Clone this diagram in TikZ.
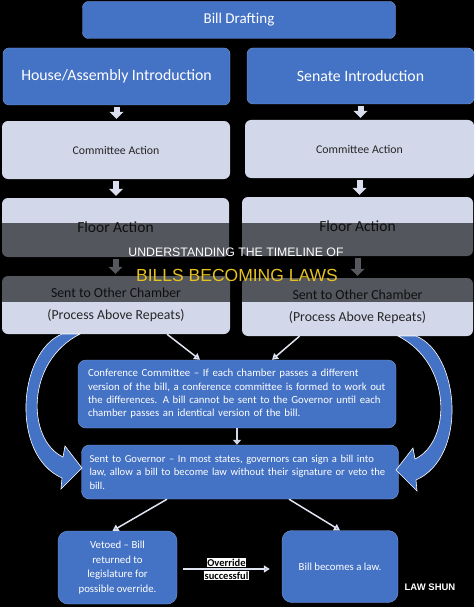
\documentclass[tikz,border=0pt]{standalone}
\usepackage{fontspec}
\setmainfont{Carlito}
\newfontfamily\headfont{Liberation Sans}
\usetikzlibrary{arrows.meta}
\definecolor{boxblue}{HTML}{4472C4}
\definecolor{boxlav}{HTML}{D3D7EA}
\definecolor{titlegold}{HTML}{E6C21E}

\begin{document}
\begin{tikzpicture}[x=1pt,y=-1pt,
  bluebox/.style={fill=boxblue, draw=boxblue!70!white, rounded corners=6pt, text=white, inner sep=0pt},
  lavbox/.style={fill=boxlav, rounded corners=6pt, text=black!85, inner sep=0pt},
  blk/.style={boxlav!85!white, line width=6pt, shorten <=2pt, shorten >=2pt, -{Triangle[width=14pt,length=7pt]}},
  smallblk/.style={boxlav, line width=2.2pt, -{Triangle[width=8pt,length=5pt]}},
  thinarr/.style={boxlav!70!white, line width=1.5pt, -{Triangle[width=7pt,length=6pt,fill=boxblue]}},
  fatarr/.style={fill=boxblue, draw=white, line width=0.6pt},
  tag/.style={fill=white, text=black, font=\bfseries\fontsize{10.5}{12}\selectfont, inner sep=0.6pt}]
  \useasboundingbox (0,0) rectangle (474,607);
  \fill[black] (0,0) rectangle (474,607);

  % top row
  \node[bluebox, minimum width=313pt, minimum height=37pt, font=\fontsize{15}{17}\selectfont] (draft) at (239,20) {Bill Drafting};
  \node[bluebox, minimum width=227pt, minimum height=57pt, font=\fontsize{15.8}{18}\selectfont] (house) at (116.5,76.5) {House/Assembly Introduction};
  \node[bluebox, minimum width=227pt, minimum height=56pt, font=\fontsize{15.8}{18}\selectfont] (senate) at (360.5,76) {Senate Introduction};

  % both chambers
  \node[lavbox, minimum width=228pt, minimum height=58pt, font=\fontsize{11.8}{14}\selectfont] (comL) at (116,150) {Committee Action};
  \node[lavbox, minimum width=229pt, minimum height=58pt, font=\fontsize{11.8}{14}\selectfont] (comR) at (359.5,149) {Committee Action};
  \node[lavbox, minimum width=227pt, minimum height=59pt, font=\fontsize{15.5}{18}\selectfont] (floorL) at (115.5,227.5) {Floor Action};
  \node[lavbox, minimum width=231pt, minimum height=59pt, font=\fontsize{15.5}{18}\selectfont] (floorR) at (357.5,226.5) {Floor Action};
  \node[lavbox, minimum width=228pt, minimum height=58pt, align=center, font=\fontsize{13.8}{22}\selectfont] (otherL) at (116,305) {Sent to Other Chamber\\(Process Above Repeats)};
  \node[lavbox, minimum width=231pt, minimum height=58pt, align=center, font=\fontsize{13.8}{22}\selectfont] (otherR) at (357.5,307) {Sent to Other Chamber\\(Process Above Repeats)};

  \draw[blk] (house.south) -- (house.south |- comL.north);
  \draw[blk] (senate.south) -- (senate.south |- comR.north);
  \draw[blk] (comL.south) -- (comL.south |- floorL.north);
  \draw[blk] (comR.south) -- (comR.south |- floorR.north);
  \draw[blk] (floorL.south) -- (floorL.south |- otherL.north);
  \draw[blk] (floorR.south) -- (floorR.south |- otherR.north);

  % conference and governor
  \node[bluebox, minimum width=318pt, minimum height=68pt, text width=298pt, align=left, rounded corners=8pt, font=\fontsize{10.8}{13.4}\selectfont] (conf) at (237,394)
    {Conference Committee -- If each chamber passes a different\\version of the bill, a conference committee is formed to work out\\the differences. A bill cannot be sent to the Governor until each\\chamber passes an identical version of the bill.};
  \node[bluebox, minimum width=317pt, minimum height=54pt, text width=301pt, align=left, rounded corners=8pt, font=\fontsize{10.6}{13.4}\selectfont] (gov) at (240,472)
    {Sent to Governor -- In most states, governors can sign a bill into\\law, allow a bill to become law without their signature or veto the\\bill.};
  \node[bluebox, minimum width=119pt, minimum height=73pt, align=center, rounded corners=10pt, font=\fontsize{10.8}{14.7}\selectfont] (veto) at (117.5,567.5)
    {Vetoed -- Bill\\returned to\\legislature for\\possible override.};
  \node[bluebox, minimum width=116pt, minimum height=72pt, rounded corners=10pt, font=\fontsize{10.8}{13}\selectfont] (law) at (340,566.5) {Bill becomes a law.};

  \draw[thinarr] ([xshift=51pt]otherL.south) -- ([xshift=-37pt]conf.north);
  \draw[thinarr] ([xshift=-58pt]otherR.south) -- ([xshift=35pt]conf.north);
  \draw[smallblk] (conf.south) -- (conf.south |- gov.north);
  \draw[thinarr] ([xshift=-73pt]gov.south) -- ([xshift=-5pt]veto.north);
  \draw[thinarr] ([xshift=49pt]gov.south) -- (law.north);
  \draw[thinarr] ([xshift=6pt,yshift=-1.5pt]veto.east) -- ([xshift=-12pt,yshift=-1.5pt]veto.east -| law.west)
    node[midway, tag, above=1.5pt] {Override}
    node[midway, tag, below=1.5pt] {successful};

  % curved arrows round the conference box
  \filldraw[fatarr] (80,334) -- (62,334) .. controls (18,352) and (10,455) .. (62,478)
    -- (61,489) -- (82,468) -- (65,446) -- (63,457) .. controls (27,440) and (25,362) .. (80,334) -- cycle;
  \filldraw[fatarr] (398,336) -- (416,336) .. controls (460,354) and (468,457) .. (416,480)
    -- (417,491) -- (396,470) -- (413,448) -- (415,459) .. controls (451,442) and (453,364) .. (398,336) -- cycle;

  % title band
  \fill[black, opacity=0.6] (0,223) rectangle (474,302);
  \node[text=white, font=\headfont\fontsize{12.3}{14}\selectfont] (title) at (236,252) {UNDERSTANDING THE TIMELINE OF};
  \node[text=titlegold, font=\headfont\fontsize{17.5}{20}\selectfont] (subtitle) at (237,275) {BILLS BECOMING LAWS};

  \node[text=white, font=\headfont\bfseries\fontsize{9.5}{11}\selectfont] (brand) at (430,587) {LAW SHUN};
\end{tikzpicture}
\end{document}
